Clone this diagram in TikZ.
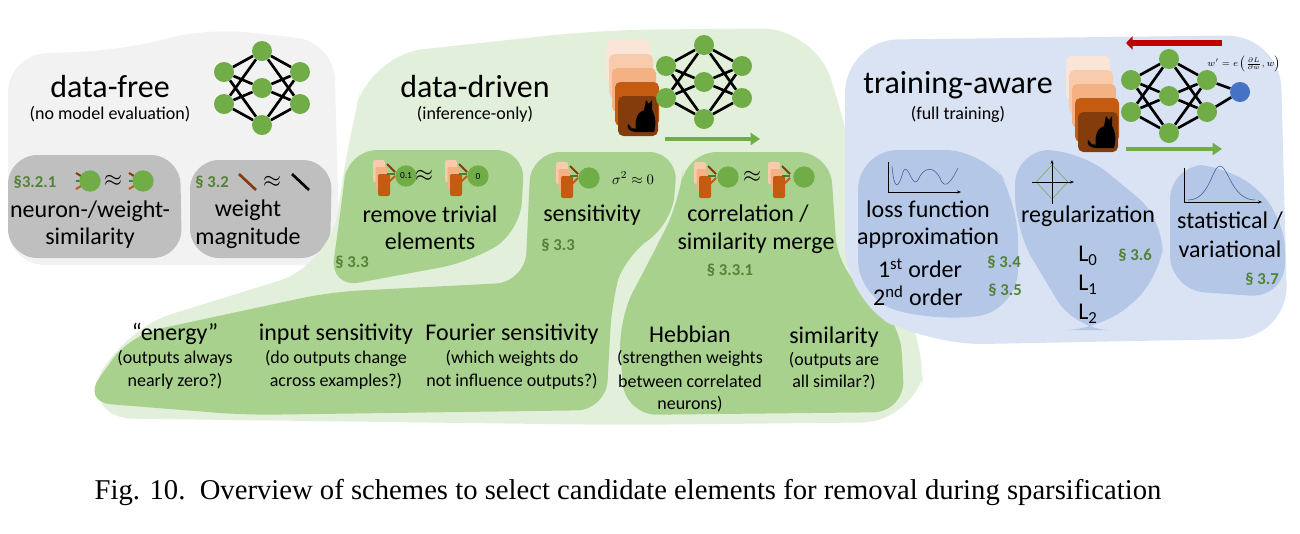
\documentclass[tikz,border=0pt]{standalone}
\usepackage{fontspec}
\setmainfont{Carlito}
\newfontfamily\capfont{Liberation Serif}
\usetikzlibrary{arrows.meta}
\definecolor{lgray}{HTML}{F2F2F2}
\definecolor{mgray}{HTML}{BFBFBF}
\definecolor{lgreen}{HTML}{E2EFDA}
\definecolor{mgreen}{HTML}{A9D18E}
\definecolor{bgreen}{HTML}{70AD47}
\definecolor{sgreen}{HTML}{548235}
\definecolor{lblue}{HTML}{DAE3F3}
\definecolor{mblue}{HTML}{B4C7E7}
\definecolor{nblue}{HTML}{4472C4}
\definecolor{orng}{HTML}{C55A11}
\definecolor{brwn}{HTML}{843C0C}
\definecolor{or1}{HTML}{FBE5D6}
\definecolor{or2}{HTML}{F8CBAD}
\definecolor{or3}{HTML}{F4B183}
\tikzset{
 blob/.style={rounded corners=28pt},
 big/.style={font=\fontsize{24}{26}\selectfont},
 mid/.style={font=\fontsize{18}{20}\selectfont},
 sml/.style={font=\fontsize{13.5}{15}\selectfont},
 sec/.style={font=\bfseries\fontsize{12.5}{14}\selectfont, text=sgreen},
 neu/.style={circle, fill=bgreen, minimum size=15pt, inner sep=0pt},
 sneu/.style={circle, fill=bgreen, minimum size=12pt, inner sep=0pt, font=\fontsize{7}{8}\selectfont},
 edge/.style={black, line width=2pt},
 pics/nn/.style={code={
   \node[neu] (-a1) at (0,-16) {}; \node[neu] (-a2) at (0,16) {};
   \node[neu] (-b1) at (38,-37) {}; \node[neu] (-b2) at (38,0) {}; \node[neu] (-b3) at (38,37) {};
   \node[neu] (-c1) at (76,-16) {}; \node[neu] (-c2) at (76,16) {};
   \foreach \i in {a1,a2} \foreach \j in {b1,b2,b3} \draw[edge] (-\i) -- (-\j);
   \foreach \i in {c1,c2} \foreach \j in {b1,b2,b3} \draw[edge] (-\i) -- (-\j);
 }},
 pics/stack/.style={code={
   \foreach \k/\c in {0/or1,1/or2,2/or3,3/orng}
     \fill[\c, rounded corners=4pt] (\k*3,\k*14) rectangle ++(44,44);
   \fill[brwn, rounded corners=4pt] (12,56) rectangle ++(40,40);
   \fill[black] (30,92) .. controls (28,78) and (32,72) .. (38,70) -- (40,60) -- (43,64) -- (46,60) -- (46,70) .. controls (50,76) and (50,86) .. (48,92) -- cycle;
   \fill[black] (30,92) .. controls (24,92) and (20,88) .. (22,84) -- (24,86) .. controls (24,88) and (28,89) .. (31,89) -- cycle;
 }},
 pics/mini/.style={code={
   \foreach \k/\c in {0/or2,1/or3,2/orng} \fill[\c, rounded corners=1.5pt] (\k*2.5,\k*7) rectangle ++(12,22);
   \draw[brwn, line width=1.5pt] (14,4) -- (22,12);
   \draw[bgreen!70!black, line width=1.5pt] (14,14) -- (22,14);
   \draw[orng, line width=1.5pt] (14,24) -- (22,16);
 }},
 pics/neuron/.style={code={
   \draw[brwn, line width=1.5pt] (-14,-8) -- (-4,-2);
   \draw[bgreen!70!black, line width=1.5pt] (-14,0) -- (-4,0);
   \draw[orng, line width=1.5pt] (-14,8) -- (-4,2);
   \node[sneu, minimum size=16pt] at (0,0) {};
 }},
}
\begin{document}
\begin{tikzpicture}[x=0.75pt,y=-0.75pt]
\useasboundingbox (0,0) rectangle (1300,533);
% ---------- data-free
\fill[lgray, blob] (8,55) -- (120,50) -- (210,28) -- (334,42) -- (340,265) -- (8,265) -- cycle;
\fill[mgray, rounded corners=22pt] (8,155) -- (180,155) -- (182,258) -- (8,258) -- cycle;
\fill[mgray, rounded corners=22pt] (190,160) -- (332,160) -- (330,258) -- (190,258) -- cycle;
\node[big] (df) at (110,87) {data-free};
\node[sml] (dfs) at (110,114) {(no model evaluation)};
\pic (nn1) at (224,88) {nn};
\node[sec] (s321) at (35,182) {§3.2.1};
\pic at (90,181) {neuron};
\node[mid] (ap1) at (113,181) {$\approx$};
\pic at (143,181) {neuron};
\node[mid] (nw) at (90,211) {neuron-/weight-};
\node[mid] (sim) at (90,238) {similarity};
\node[sec] (s32) at (212,182) {§ 3.2};
\draw[brwn, line width=2pt] (239,174) -- (256,190);
\node[mid] (ap2) at (272,182) {$\approx$};
\draw[black, line width=2pt] (292,174) -- (309,190);
\node[mid] (wt) at (248,210) {weight};
\node[mid] (mag) at (248,238) {magnitude};
% ---------- data-driven
\fill[lgreen, rounded corners=40pt] (370,55) -- (600,30) -- (815,28) -- (850,140) -- (870,260) -- (930,340) -- (915,422) -- (620,425) -- (80,418) -- (120,330) -- (330,265) -- (350,130) -- cycle;
\fill[mgreen, rounded corners=22pt] (348,150) -- (525,150) -- (520,232) -- (470,262) -- (330,288) -- (342,200) -- cycle;
\fill[mgreen, rounded corners=22pt] (531,152) -- (678,152) -- (672,225) -- (625,255) -- (612,300) -- (606,410) -- (245,415) -- (82,402) -- (130,335) -- (330,292) -- (525,282) -- cycle;
\fill[mgreen, rounded corners=24pt] (685,152) -- (830,152) -- (838,270) -- (900,320) -- (905,412) -- (625,415) -- (618,320) -- (655,250) -- (680,200) -- cycle;
\node[big] (dd) at (475,87) {data-driven};
\node[sml] (dds) at (475,114) {(inference-only)};
\pic at (606,40) {stack};
\pic (nn2) at (666,82) {nn};
\draw[bgreen, line width=3.5pt, -{Triangle[length=7pt,width=9pt]}] (665,139) -- (760,139);
\pic at (373,160) {mini};
\node[sneu, minimum size=16pt] (z1) at (406,176) {0.1};
\node[mid] at (424,176) {$\approx$};
\pic at (445,160) {mini};
\node[sneu, minimum size=16pt] (z2) at (478,176) {0};
\node[mid] (rt) at (430,214) {remove trivial};
\node[mid] (el) at (430,241) {elements};
\node[sec] at (352,262) {§ 3.3};
\pic at (556,162) {mini};
\node[sneu, minimum size=16pt] (z3) at (589,178) {};
\node[font=\fontsize{11}{12}\selectfont] at (633,178) {$\sigma^2\approx 0$};
\node[mid] (sens) at (592,215) {sensitivity};
\node[sec] at (558,245) {§ 3.3};
\pic at (694,162) {mini};
\node[sneu, minimum size=16pt] (z4) at (728,177) {};
\node[mid] at (752,177) {$\approx$};
\pic at (768,162) {mini};
\node[sneu, minimum size=16pt] (z5) at (804,177) {};
\node[mid] (cor) at (748,214) {correlation /};
\node[mid] (sm) at (756,243) {similarity merge};
\node[sec] at (730,270) {§ 3.3.1};
\node[mid] (en) at (175,334) {“energy”};
\node[sml] at (175,358) {(outputs always};
\node[sml] at (175,381) {nearly zero?)};
\node[mid] (is) at (336,334) {input sensitivity};
\node[sml] at (336,358) {(do outputs change};
\node[sml] at (336,381) {across examples?)};
\node[mid] (fs) at (512,334) {Fourier sensitivity};
\node[sml] at (512,358) {(which weights do};
\node[sml] at (512,381) {not influence outputs?)};
\node[mid] (hb) at (690,334) {Hebbian};
\node[sml] at (690,358) {(strengthen weights};
\node[sml] at (690,381) {between correlated};
\node[sml] at (690,404) {neurons)};
\node[mid] (si) at (834,337) {similarity};
\node[sml] at (834,360) {(outputs are};
\node[sml] at (834,382) {all similar?)};
% ---------- training-aware
\fill[lblue, rounded corners=40pt] (845,40) -- (1280,35) -- (1288,338) -- (930,345) -- (845,300) -- cycle;
\fill[mblue, rounded corners=30pt] (858,150) -- (985,150) -- (1018,200) -- (1018,310) -- (940,322) -- (858,300) -- cycle;
\fill[mblue, rounded corners=26pt] (1015,150) -- (1080,150) -- (1165,220) -- (1160,280) -- (1100,330) -- (1075,330) -- (1015,230) -- cycle;
\fill[mblue, rounded corners=26pt] (1170,165) -- (1230,165) -- (1285,215) -- (1285,298) -- (1170,290) -- cycle;
\node[big] (ta) at (958,85) {training-aware};
\node[sml] (tas) at (958,114) {(full training)};
\pic at (1066,56) {stack};
\pic (nn3) at (1131,96) {nn};
\node[circle, fill=nblue, minimum size=15pt, inner sep=0pt] (out) at (1240,92) {};
\draw[edge] (nn3-c1) -- (out); \draw[edge] (nn3-c2) -- (out);
\node[font=\fontsize{7}{8}\selectfont] (fm) at (1244,64) {$w' = e\left(\frac{\partial L}{\partial w}, w\right)$};
\draw[red!75!black, line width=4pt, -{Triangle[length=5pt,width=10pt]}] (1222,43) -- (1126,43);
\draw[bgreen, line width=3.5pt, -{Triangle[length=7pt,width=9pt]}] (1126,149) -- (1222,149);
\draw[-{Stealth[length=3pt]}] (888,162) -- (888,192) -- (961,192);
\draw[nblue!80!black] (892,166) .. controls (894,190) and (898,190) .. (903,172) .. controls (908,160) and (912,190) .. (918,180) .. controls (924,166) and (934,166) .. (940,178) .. controls (945,192) and (952,180) .. (958,168);
\node[mid] (lf) at (928,209) {loss function};
\node[mid] (ax) at (928,238) {approximation};
\node[mid] (o1) at (920,268) {1\textsuperscript{st} order};
\node[sec] at (1004,262) {§ 3.4};
\node[mid] (o2) at (918,296) {2\textsuperscript{nd} order};
\node[sec] at (1005,290) {§ 3.5};
\draw[bgreen] (1052,165) -- (1068,182) -- (1052,199) -- (1036,182) -- cycle;
\draw[-{Stealth[length=3pt]}] (1052,204) -- (1052,160);
\draw[-{Stealth[length=3pt]}] (1032,182) -- (1074,182);
\node[mid] (rg) at (1088,216) {regularization};
\node[mid] (l0) at (1088,256) {L\textsubscript{0}};
\node[mid] (l1) at (1088,285) {L\textsubscript{1}};
\node[mid] (l2) at (1088,314) {L\textsubscript{2}};
\node[sec] at (1135,255) {§ 3.6};
\draw[-{Stealth[length=3pt]}] (1184,168) -- (1184,202) -- (1262,202);
\draw[nblue!80!black] (1188,200) .. controls (1210,200) and (1212,166) .. (1220,166) .. controls (1228,166) and (1232,200) .. (1255,200);
\node[mid] (st) at (1230,221) {statistical /};
\node[mid] (va) at (1230,249) {variational};
\node[sec] at (1262,279) {§ 3.7};
% caption
\node[font=\capfont\fontsize{21.5}{23}\selectfont] (cap) at (628,492) {Fig. 10.\enspace Overview of schemes to select candidate elements for removal during sparsification};
\end{tikzpicture}
\end{document}
